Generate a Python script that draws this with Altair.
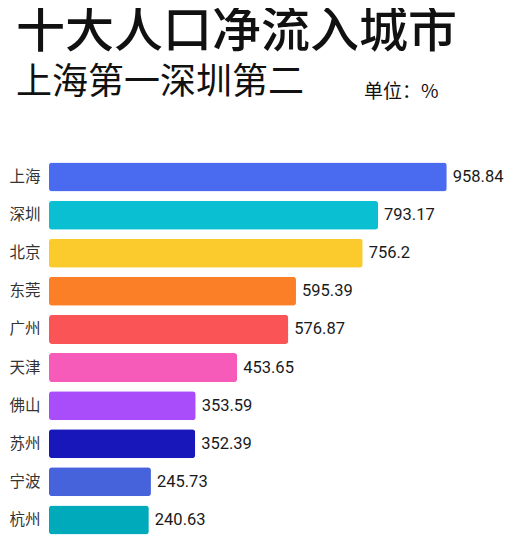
import altair as alt
import pandas as pd

cities = ["上海", "深圳", "北京", "东莞", "广州", "天津", "佛山", "苏州", "宁波", "杭州"]
values = [958.84, 793.17, 756.2, 595.39, 576.87, 453.65, 353.59, 352.39, 245.73, 240.63]
colors = ["#4A6AF0", "#0BBFD3", "#FBCA2C", "#FA7F26", "#FA5457",
          "#F65BBA", "#A84DF9", "#1717BA", "#4763DC", "#00AABA"]
title_text = ["十大人口净流入城市"]
subtitle_text = ["上海第一深圳第二"]
unit_text = ["单位：%"]

df = pd.DataFrame({"city": cities, "value": values, "color": colors})

y_enc = alt.Y("city:N", sort=cities,
              scale=alt.Scale(paddingInner=0.24, paddingOuter=0.12),
              axis=alt.Axis(title=None, ticks=False, domain=False, labelFont="Noto Sans CJK SC",
                            labelFontSize=15.5, labelColor="#333333", labelPadding=9, grid=False))
x_enc = alt.X("value:Q", scale=alt.Scale(domain=[0, 1133], nice=False), axis=None)

bars = alt.Chart(df).mark_bar(cornerRadius=3).encode(
    y=y_enc, x=x_enc, color=alt.Color("color:N", scale=None)
)
labels = alt.Chart(df).mark_text(align="left", baseline="middle", dx=6, font="Roboto",
                                 fontSize=16.5, color="#1a1a1a").encode(
    y=y_enc, x=x_enc, text=alt.Text("value:Q")
)


def text_layer(txt, x, y, size, weight=400):
    return alt.Chart(pd.DataFrame({"t": txt})).mark_text(
        align="left", baseline="middle", font="Noto Sans CJK SC",
        fontSize=size, fontWeight=weight, color="#111111"
    ).encode(x=alt.value(x), y=alt.value(y), text="t:N")


title = text_layer(title_text, -33, -126, 49, 500)
subtitle = text_layer(subtitle_text, -33, -75, 36)
unit = text_layer(unit_text, 315, -66, 19)

chart = alt.layer(bars, labels, title, subtitle, unit).properties(
    width=470, height=381,
    padding={"left": 0, "top": 0, "right": 0, "bottom": 0},
    background="white",
).configure_view(stroke=None)

chart.save("out.html", embed_options={"renderer": "svg", "actions": False})
